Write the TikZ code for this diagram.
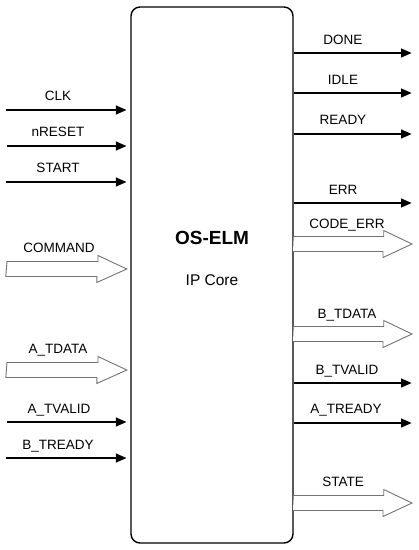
\documentclass[tikz,border=0pt]{standalone}
\usepackage{fontspec}
\setmainfont{Liberation Sans}
\usetikzlibrary{positioning, calc, arrows.meta}
\tikzstyle{core}=[rectangle, rounded corners=9pt, draw=black, line width=1.4pt, minimum width=162pt, minimum height=536pt]
\tikzstyle{signal}=[line width=2.6pt, ->, >={Triangle[length=11pt, width=8.5pt]}]
\tikzstyle{bus}=[draw=black!55, line width=0.9pt, fill=white, line join=miter]
\tikzstyle{lbl}=[font=\fontsize{13.5}{16}\selectfont, inner sep=0pt, anchor=base]

\begin{document}
\begin{tikzpicture}[x=1pt, y=-1pt]
    \useasboundingbox (0,0) rectangle (419,550);

    % Bloc IP
    \node[core] (core) at (212,275) {};
    \node[inner sep=0pt, font=\fontsize{19}{22}\selectfont\bfseries] (title) at (212,238) {OS-ELM};
    \node[inner sep=0pt, font=\fontsize{15.5}{18}\selectfont, below=30pt of title] (sub) {IP Core};

    % Entrees
    \coordinate (clkIn) at (6,110);
    \coordinate (rstIn) at (7,146);
    \coordinate (startIn) at (6,182);
    \coordinate (cmdIn) at (7,269);
    \coordinate (atdataIn) at (7,370);
    \coordinate (atvalidIn) at (7,422);
    \coordinate (btreadyIn) at (6,458);

    \draw[signal, shorten >=3.5pt] (clkIn) -- (clkIn -| core.west);
    \draw[signal, shorten >=3.5pt] (rstIn) -- (rstIn -| core.west);
    \draw[signal, shorten >=3.5pt] (startIn) -- (startIn -| core.west);
    \draw[signal, shorten >=3.5pt] (atvalidIn) -- (atvalidIn -| core.west);
    \draw[signal, shorten >=3.5pt] (btreadyIn) -- (btreadyIn -| core.west);

    \draw[bus] (cmdIn) ++(0,-7.5) -- ++(91,0) -- ++(0,-6) -- ($(cmdIn -| core.west)+(-3.5,0)$)
        -- ++(-30,13.5) -- ++(0,-6) -- ++(-91,0) -- cycle;
    \draw[bus] (atdataIn) ++(0,-7.5) -- ++(91,0) -- ++(0,-6) -- ($(atdataIn -| core.west)+(-3.5,0)$)
        -- ++(-30,13.5) -- ++(0,-6) -- ++(-91,0) -- cycle;

    \node[lbl] (clkLbl) at (58,100) {CLK};
    \node[lbl] (rstLbl) at (58,136) {nRESET};
    \node[lbl] (startLbl) at (58,172) {START};
    \node[lbl] (cmdLbl) at (59,252) {COMMAND};
    \node[lbl] (atdataLbl) at (58,353) {A\_TDATA};
    \node[lbl] (atvalidLbl) at (59,413) {A\_TVALID};
    \node[lbl] (btreadyLbl) at (58,449) {B\_TREADY};

    % Sorties
    \coordinate (doneOut) at (412,53);
    \coordinate (idleOut) at (412,93);
    \coordinate (readyOut) at (412,134);
    \coordinate (errOut) at (412,203);
    \coordinate (codeOut) at (412,244);
    \coordinate (btdataOut) at (412,334);
    \coordinate (btvalidOut) at (412,383);
    \coordinate (atreadyOut) at (412,423);
    \coordinate (stateOut) at (412,503);

    \draw[signal] (doneOut -| core.east) -- (doneOut);
    \draw[signal] (idleOut -| core.east) -- (idleOut);
    \draw[signal] (readyOut -| core.east) -- (readyOut);
    \draw[signal] (errOut -| core.east) -- (errOut);
    \draw[signal] (btvalidOut -| core.east) -- (btvalidOut);
    \draw[signal] (atreadyOut -| core.east) -- (atreadyOut);

    \draw[bus] (codeOut -| core.east) ++(0,-7.5) -- ++(90,0) -- ++(0,-6) -- (codeOut)
        -- ++(-29,13.5) -- ++(0,-6) -- ++(-90,0);
    \draw[bus] (btdataOut -| core.east) ++(0,-7.5) -- ++(90,0) -- ++(0,-6) -- (btdataOut)
        -- ++(-29,13.5) -- ++(0,-6) -- ++(-90,0);
    \draw[bus] (stateOut -| core.east) ++(0,-7.5) -- ++(90,0) -- ++(0,-6) -- (stateOut)
        -- ++(-29,13.5) -- ++(0,-6) -- ++(-90,0);

    \node[lbl] (doneLbl) at (343,44) {DONE};
    \node[lbl] (idleLbl) at (343,84) {IDLE};
    \node[lbl] (readyLbl) at (343,124) {READY};
    \node[lbl] (errLbl) at (343,194) {ERR};
    \node[lbl] (codeLbl) at (347,228) {CODE\_ERR};
    \node[lbl] (btdataLbl) at (347,318) {B\_TDATA};
    \node[lbl] (btvalidLbl) at (347,374) {B\_TVALID};
    \node[lbl] (atreadyLbl) at (346,413) {A\_TREADY};
    \node[lbl] (stateLbl) at (343,486) {STATE};
\end{tikzpicture}
\end{document}
